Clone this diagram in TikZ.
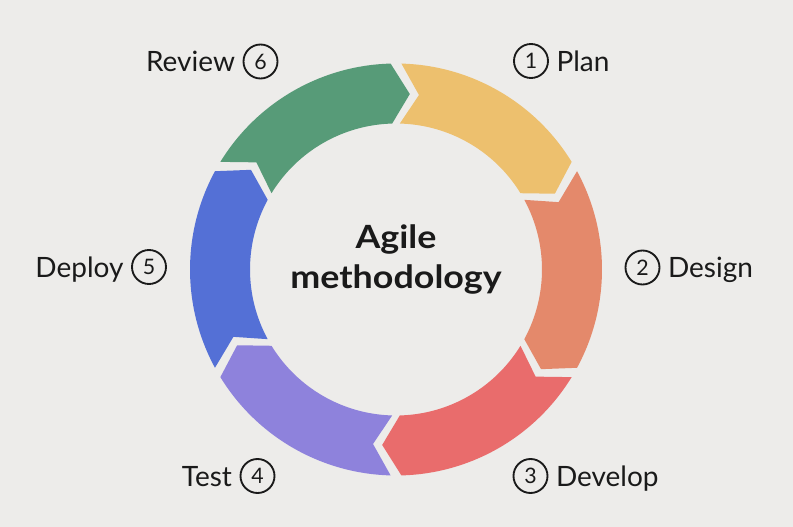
\documentclass[tikz,border=0pt]{standalone}
\usepackage{fontspec}
\setmainfont{Lato}
\newfontfamily\agilefont{Lato}[FakeStretch=1.12]
\usetikzlibrary{positioning}

\definecolor{bgpaper}{RGB}{237,236,234}
\definecolor{inkblack}{RGB}{26,26,26}
\definecolor{planyellow}{RGB}{237,192,110}
\definecolor{designorange}{RGB}{228,137,107}
\definecolor{developred}{RGB}{233,108,108}
\definecolor{testpurple}{RGB}{142,130,220}
\definecolor{deployblue}{RGB}{84,112,214}
\definecolor{reviewgreen}{RGB}{87,155,120}

\tikzset{
  numcircle/.style={circle, draw=inkblack, line width=1.4pt, inner sep=0pt,
    minimum size=25.5pt, text=inkblack, text height=11.5pt, text depth=0pt,
    font=\fontsize{16}{16}\selectfont},
  steplabel/.style={inner sep=0pt, text=inkblack, text height=15.1pt, text depth=0pt,
    font=\fontsize{21}{21}\selectfont}
}

\begin{document}
\begin{tikzpicture}[x=0.75pt,y=0.75pt,yscale=-1,xscale=1]
%Background
\fill[bgpaper] (0,0) rectangle (793,527);

\begin{scope}[shift={(396,269.5)}]
%Shape: Plan segment
\fill[planyellow] (-88.5:206) arc[start angle=-88.5, end angle=-31.5, radius=206] -- (-25.5:176) -- (-31.5:146) arc[start angle=-31.5, end angle=-88.5, radius=146] -- (-82.5:176) -- cycle;
%Shape: Design segment
\fill[designorange] (-28.5:206) arc[start angle=-28.5, end angle=28.5, radius=206] -- (34.5:176) -- (28.5:146) arc[start angle=28.5, end angle=-28.5, radius=146] -- (-22.5:176) -- cycle;
%Shape: Develop segment
\fill[developred] (31.5:206) arc[start angle=31.5, end angle=88.5, radius=206] -- (94.5:176) -- (88.5:146) arc[start angle=88.5, end angle=31.5, radius=146] -- (37.5:176) -- cycle;
%Shape: Test segment
\fill[testpurple] (91.5:206) arc[start angle=91.5, end angle=148.5, radius=206] -- (154.5:176) -- (148.5:146) arc[start angle=148.5, end angle=91.5, radius=146] -- (97.5:176) -- cycle;
%Shape: Deploy segment
\fill[deployblue] (151.5:206) arc[start angle=151.5, end angle=208.5, radius=206] -- (214.5:176) -- (208.5:146) arc[start angle=208.5, end angle=151.5, radius=146] -- (157.5:176) -- cycle;
%Shape: Review segment
\fill[reviewgreen] (211.5:206) arc[start angle=211.5, end angle=268.5, radius=206] -- (274.5:176) -- (268.5:146) arc[start angle=268.5, end angle=211.5, radius=146] -- (217.5:176) -- cycle;
\end{scope}

% Text Node
\node[text=inkblack, align=center, font=\agilefont\fontsize{24}{30}\selectfont\bfseries] (agile) at (396,260) {Agile\\methodology};

% Step numbers and labels
\node[numcircle] (n1) at (531,61) {1};
\node[steplabel, right=5.5pt of n1] (plan) {Plan};
\node[numcircle] (n2) at (642.5,267.5) {2};
\node[steplabel, right=5.5pt of n2] (design) {Design};
\node[numcircle] (n3) at (530.5,476) {3};
\node[steplabel, right=5.5pt of n3] (develop) {Develop};
\node[numcircle] (n4) at (257.5,476) {4};
\node[steplabel, left=5.5pt of n4] (test) {Test};
\node[numcircle] (n5) at (149,267) {5};
\node[steplabel, left=5.5pt of n5] (deploy) {Deploy};
\node[numcircle] (n6) at (260.5,61.5) {6};
\node[steplabel, left=5.5pt of n6] (review) {Review};

\end{tikzpicture}
\end{document}
